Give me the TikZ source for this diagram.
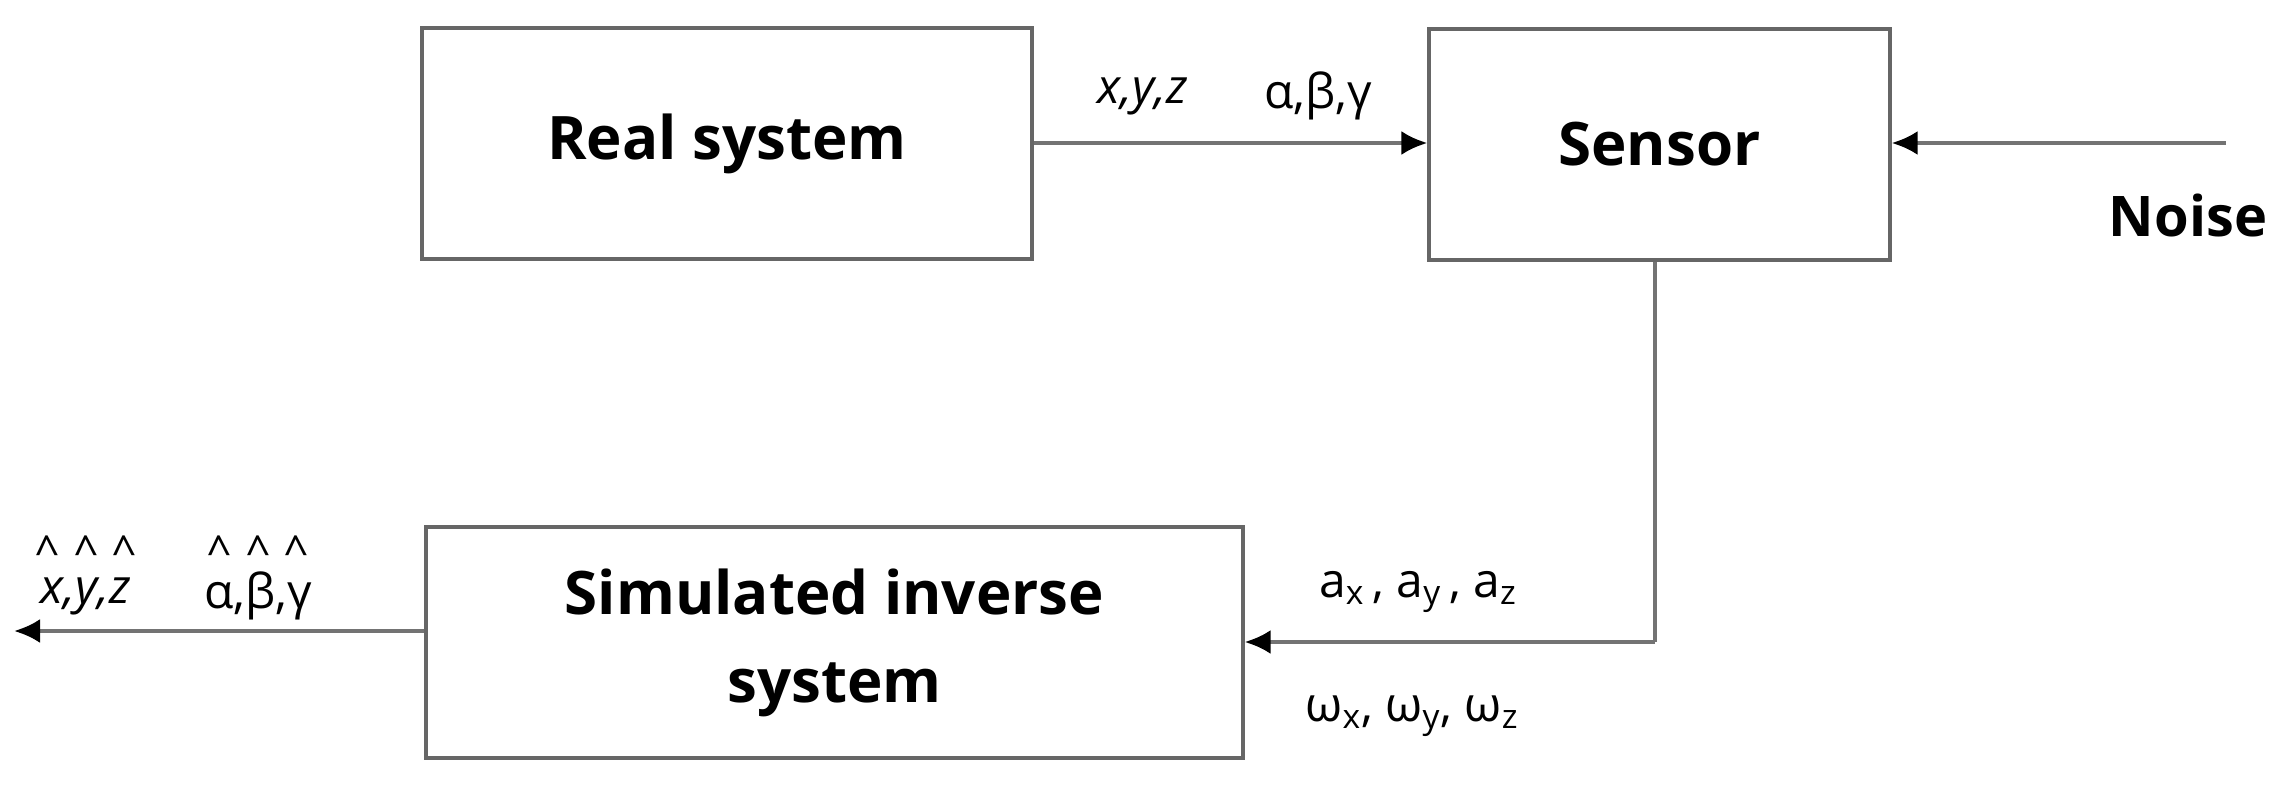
\documentclass[tikz,border=0pt]{standalone}
\usepackage{fontspec}
\setmainfont{Open Sans}
\usetikzlibrary{arrows.meta}
\tikzset{
 blk/.style={draw=black!60, line width=1.6pt, minimum width=#1, minimum height=115.5pt, inner sep=0pt, font=\bfseries\fontsize{30}{34}\selectfont, align=center},
 wire/.style={draw=black!55, line width=2pt},
 arr/.style={wire, -{Latex[length=13pt,width=12pt,black]}},
 lbl/.style={font=\fontsize{24}{27}\selectfont, inner sep=0pt},
 hat/.style={font=\fontsize{22}{24}\selectfont, inner sep=0pt}
}
\begin{document}
\begin{tikzpicture}[x=0.5pt,y=-0.5pt]
\useasboundingbox (0,0) rectangle (2280,792);
\node[blk=305pt] (real) at (727,143.5) {Real system};
\node[blk=230.5pt] (sens) at (1659.5,144.5) {Sensor};
\node[blk=408.5pt] (sim) at (834.5,642.5) {Simulated inverse\\[10pt] system};
\node[font=\bfseries\fontsize{28}{32}\selectfont, inner sep=0pt] (noise) at (2188,215) {Noise};
\coordinate (nstart) at (2226,143);
\coordinate (corner) at (1655,642);
\coordinate (out) at (14,631);
\draw[arr] (real.east |- 0,143) -- (sens.west |- 0,143);
\draw[arr] (nstart) -- (sens.east |- nstart);
\draw[wire] (sens.south -| corner) -- (corner);
\draw[arr] (corner) -- (sim.east |- corner);
\draw[arr] (sim.west |- out) -- (out);
\node[lbl] (l1) at (1143,96) {\itshape x,y,z};
\node[lbl] (l2) at (1318,96) {α,β,γ};
\node[hat] (h3) at (86,552) {\^{}\,\,\^{}\,\,\^{}};
\node[lbl] (l3) at (86,596) {\itshape x,y,z};
\node[hat] (h4) at (258,552) {\^{}\,\,\^{}\,\,\^{}};
\node[lbl] (l4) at (258,596) {α,β,γ};
\node[lbl] (l5) at (1418,592) {a\textsubscript{x}\,, a\textsubscript{y}\,, a\textsubscript{z}};
\node[lbl] (l6) at (1412,716) {ω\textsubscript{x}, ω\textsubscript{y}, ω\textsubscript{z}};
\end{tikzpicture}
\end{document}
